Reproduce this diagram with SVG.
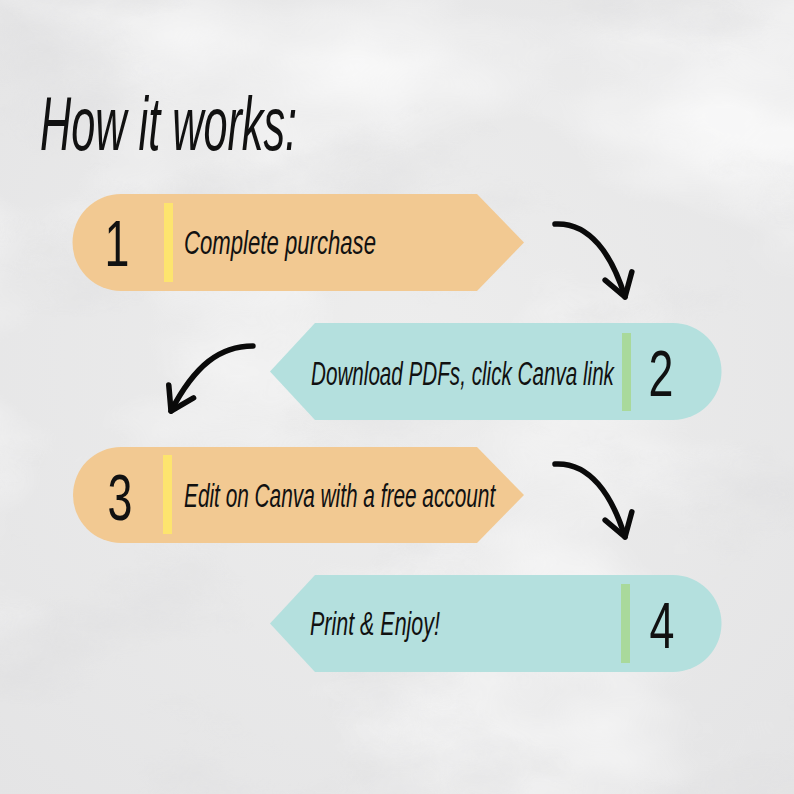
<svg xmlns="http://www.w3.org/2000/svg" width="794" height="794" viewBox="0 0 794 794">
  <defs>
    <style>
      .txt { font-family: "Liberation Sans", Arial, sans-serif; fill: #111; }
      .label { font-size: 33px; font-style: italic; }
      .num { font-size: 64px; text-anchor: middle; }
      .orange { fill: #F2C992; }
      .teal { fill: #B4E0DE; }
      .ybar { fill: #FDE46E; }
      .gbar { fill: #A9D99B; }
      .arrow { fill: none; stroke: #0a0a0a; stroke-width: 5.5; stroke-linecap: round; stroke-linejoin: round; }
    </style>
    <marker id="head" markerUnits="userSpaceOnUse" markerWidth="40" markerHeight="40" refX="0" refY="0" viewBox="-30 -20 40 40" orient="auto" overflow="visible">
      <path d="M-22,-14 L0,0 L-22,14" fill="none" stroke="#0a0a0a" stroke-width="5.5" stroke-linecap="round" stroke-linejoin="round"/>
    </marker>
    <filter id="veins" x="0" y="0" width="100%" height="100%">
      <feTurbulence type="fractalNoise" baseFrequency="0.004 0.007" numOctaves="6" seed="11" result="n"/>
      <feColorMatrix in="n" type="matrix" values="0 0 0 0 0.74  0 0 0 0 0.74  0 0 0 0 0.75  3.2 0 0 0 -1.75"/>
    </filter>
    <filter id="light" x="0" y="0" width="100%" height="100%">
      <feTurbulence type="fractalNoise" baseFrequency="0.003 0.005" numOctaves="4" seed="3" result="n"/>
      <feColorMatrix in="n" type="matrix" values="0 0 0 0 1  0 0 0 0 1  0 0 0 0 1  0 -2.4 0 0 1.3"/>
    </filter>
    <radialGradient id="bg" cx="0.5" cy="0.45" r="0.75">
      <stop offset="0" stop-color="#EDEDED"/>
      <stop offset="1" stop-color="#E4E4E5"/>
    </radialGradient>
  </defs>

  <rect width="794" height="794" fill="url(#bg)"/>
  <rect width="794" height="794" filter="url(#light)" opacity="0.7"/>
  <rect width="794" height="794" filter="url(#veins)" opacity="0.6"/>

  <text class="txt" transform="translate(40,150) scale(0.569,1)" font-size="76" font-style="italic">How it works:</text>

  <g id="step1">
    <path class="orange" d="M121,194 L477,194 L524,242.5 L477,291 L121,291 A48.5,48.5 0 0 1 121,194 Z"/>
    <rect class="ybar" x="164" y="203" width="9" height="79"/>
    <text class="txt num" transform="translate(117,266) scale(0.7,1)">1</text>
    <text class="txt label" transform="translate(184,254) scale(0.671,1)">Complete purchase</text>
  </g>

  <g id="step2">
    <path class="teal" d="M315,323 L673,323 A48.5,48.5 0 0 1 673,420 L315,420 L270,371.5 Z"/>
    <rect class="gbar" x="622" y="333" width="9" height="78"/>
    <text class="txt num" transform="translate(661,396) scale(0.7,1)">2</text>
    <text class="txt label" transform="translate(311,385) scale(0.626,1)">Download PDFs, click Canva link</text>
  </g>

  <g id="step3">
    <path class="orange" d="M121,447 L477,447 L524,495 L477,543 L121,543 A48,48 0 0 1 121,447 Z"/>
    <rect class="ybar" x="163" y="455" width="9" height="79"/>
    <text class="txt num" transform="translate(120,520) scale(0.7,1)">3</text>
    <text class="txt label" transform="translate(184,507) scale(0.631,1)">Edit on Canva with a free account</text>
  </g>

  <g id="step4">
    <path class="teal" d="M315,575 L673,575 A48.5,48.5 0 0 1 673,672 L315,672 L270,623.5 Z"/>
    <rect class="gbar" x="621" y="584" width="9" height="79"/>
    <text class="txt num" transform="translate(662,648) scale(0.7,1)">4</text>
    <text class="txt label" transform="translate(310,635) scale(0.65,1)">Print &amp; Enjoy!</text>
  </g>

  <g id="connectors">
    <path class="arrow" d="M555,224 C590,222 612,255 625,297" marker-end="url(#head)"/>
    <path class="arrow" d="M253,346 C220,346 195,365 171,411" marker-end="url(#head)"/>
    <path class="arrow" d="M555,464 C590,462 612,495 625,537" marker-end="url(#head)"/>
  </g>
</svg>
